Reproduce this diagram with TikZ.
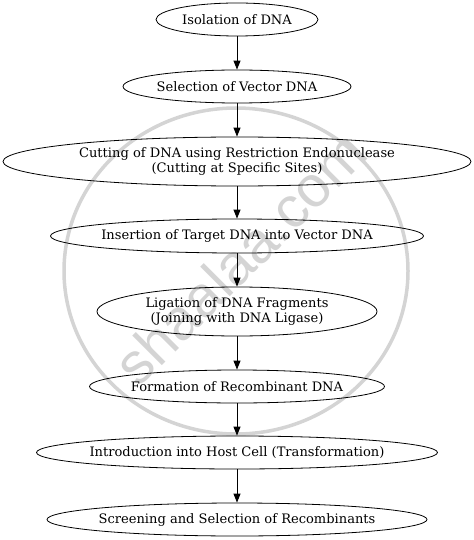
\documentclass[tikz,border=0pt]{standalone}
\usepackage{fontspec}
\setmainfont{DejaVu Serif}
\newfontfamily\wmfont{Liberation Sans}
\usetikzlibrary{shapes.geometric,arrows.meta}
\definecolor{wm}{RGB}{212,212,212}
\tikzset{
  ell/.style={draw, ellipse, inner xsep=-60bp, inner ysep=-8bp, line width=0.8bp, align=center,
    font=\fontsize{13.1}{16}\selectfont},
  conn/.style={-{Triangle[length=9bp,width=7bp]}, line width=0.9bp}
}
\begin{document}
\begin{tikzpicture}[x=1bp,y=-1bp]
\useasboundingbox (0,0) rectangle (474,540);
% watermark
\draw[wm, line width=3.5bp] (236,271) ellipse [x radius=172, y radius=163];
\node[wm, rotate=45, font=\wmfont\fontsize{58}{58}\selectfont] (wmt) at (240,258) {shaalaa.com};
% nodes
\node[ell, minimum width=162bp, minimum height=33bp] (n1) at (237,19.5) {Isolation of DNA};
\node[ell, minimum width=228bp, minimum height=33bp] (n2) at (237,86.5) {Selection of Vector DNA};
\node[ell, minimum width=468bp, minimum height=49bp] (n3) at (237,161.5) {Cutting of DNA using Restriction Endonuclease\\(Cutting at Specific Sites)};
\node[ell, minimum width=373bp, minimum height=34bp] (n4) at (237,236) {Insertion of Target DNA into Vector DNA};
\node[ell, minimum width=280bp, minimum height=49bp] (n5) at (237,311.5) {Ligation of DNA Fragments\\(Joining with DNA Ligase)};
\node[ell, minimum width=295bp, minimum height=33bp] (n6) at (237,386.5) {Formation of Recombinant DNA};
\node[ell, minimum width=401bp, minimum height=33bp] (n7) at (237,452.5) {Introduction into Host Cell (Transformation)};
\node[ell, minimum width=380bp, minimum height=33bp] (n8) at (237,519.5) {Screening and Selection of Recombinants};
% connectors
\draw[conn] (n1) -- (n2);
\draw[conn] (n2) -- (n3);
\draw[conn] (n3) -- (n4);
\draw[conn] (n4) -- (n5);
\draw[conn] (n5) -- (n6);
\draw[conn] (n6) -- (n7);
\draw[conn] (n7) -- (n8);
\end{tikzpicture}
\end{document}
